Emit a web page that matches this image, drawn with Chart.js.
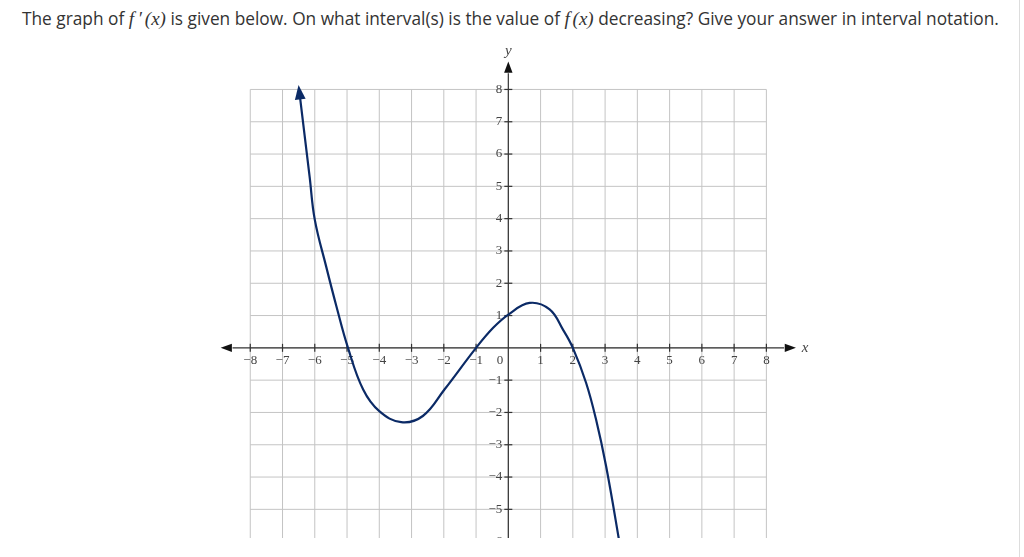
<!DOCTYPE html>
<html><head><meta charset="utf-8">
<script src="https://cdn.jsdelivr.net/npm/chart.js@4"></script>
<style>
html,body{margin:0;padding:0;width:1024px;height:557px;overflow:hidden;background:#fff;}
#title{position:absolute;left:22px;top:7px;font-family:"Open Sans",sans-serif;font-size:17.3px;color:#333;white-space:nowrap;}
#title i{font-family:"Liberation Serif",serif;font-size:19px;}
#c{position:absolute;left:218.45px;top:41.45px;}
#rb{position:absolute;left:1019px;top:0;width:1px;height:557px;background:#ddd;}
</style></head><body>
<div id="title">The graph of <i>f&#8201;′</i>&#8201;<i>(x)</i> is given below. On what interval(s) is the value of <i>f</i>&#8201;<i>(x)</i> decreasing? Give your answer in interval notation.</div>
<div id="rb"></div>
<canvas id="c" width="600" height="497"></canvas>
<script>
const xs = [-6.47,-6.16,-6.0,-5.65,-5.33,-4.97,-4.5,-4.0,-3.32,-2.65,-1.98,-1.0,-0.47,0,0.66,1.28,1.69,2.0,2.41,2.72,3.03,3.42,3.6];
const ys = [7.86,5.3,3.97,2.53,1.29,0,-1.29,-1.96,-2.30,-2.11,-1.29,0,0.62,1.03,1.39,1.19,0.57,0,-1.08,-2.22,-3.66,-5.88,-7.0];
const xTicks = [-8,-7,-6,-5,-4,-3,-2,-1,1,2,3,4,5,6,7,8];
const yTicks = [-6,-5,-4,-3,-2,-1,1,2,3,4,5,6,7,8];
const grid = {xmin:-8,xmax:8,ymin:-7,ymax:8};
const fmt = v => (v<0?'\u2212':'')+Math.abs(v);

function tri(ctx,x,y,ang,size){
  ctx.save();ctx.translate(x,y);ctx.rotate(ang);
  ctx.beginPath();ctx.moveTo(size,0);ctx.lineTo(-size*0.6,size*0.6);ctx.lineTo(-size*0.6,-size*0.6);ctx.closePath();ctx.fill();ctx.restore();
}
const axesPlugin = {
  id:'axesP',
  beforeDatasetsDraw(chart){
    const {ctx,scales:{x,y}} = chart;
    const X=v=>x.getPixelForValue(v), Y=v=>y.getPixelForValue(v);
    ctx.save();
    ctx.strokeStyle='#c4c4c4';ctx.lineWidth=1;
    for(let v=grid.xmin;v<=grid.xmax;v++){ctx.beginPath();ctx.moveTo(X(v),Y(grid.ymax));ctx.lineTo(X(v),Y(grid.ymin));ctx.stroke();}
    for(let v=grid.ymin;v<=grid.ymax;v++){ctx.beginPath();ctx.moveTo(X(grid.xmin),Y(v));ctx.lineTo(X(grid.xmax),Y(v));ctx.stroke();}
    ctx.strokeStyle='#333';ctx.fillStyle='#111';ctx.lineWidth=1.2;
    ctx.beginPath();ctx.moveTo(X(-8.55),Y(0));ctx.lineTo(X(8.55),Y(0));ctx.stroke();
    ctx.beginPath();ctx.moveTo(X(0),Y(-7));ctx.lineTo(X(0),Y(8.5));ctx.stroke();
    tri(ctx,X(-8.7),Y(0),Math.PI,7);tri(ctx,X(8.7),Y(0),0,7);tri(ctx,X(0),Y(8.65),-Math.PI/2,7);
    ctx.font='13px "Liberation Serif", serif';ctx.fillStyle='#444';
    ctx.textAlign='center';ctx.textBaseline='top';
    for(const v of xTicks){ctx.beginPath();ctx.moveTo(X(v),Y(0)-4);ctx.lineTo(X(v),Y(0)+4);ctx.stroke();ctx.fillText(fmt(v),X(v),Y(0)+6);}
    ctx.textAlign='right';ctx.fillText('0',X(0)-5,Y(0)+6);
    ctx.textBaseline='middle';
    for(const v of yTicks){ctx.beginPath();ctx.moveTo(X(0)-4,Y(v));ctx.lineTo(X(0)+4,Y(v));ctx.stroke();ctx.fillText(fmt(v),X(0)-6,Y(v));}
    ctx.font='italic 15px "Liberation Serif", serif';ctx.textAlign='center';
    ctx.fillText('y',X(0),Y(9.2));ctx.fillText('x',X(9.2),Y(0));
    ctx.restore();
  },
  afterDatasetsDraw(chart){
    const {ctx,scales:{x,y}} = chart;
    const x0=x.getPixelForValue(xs[0]),y0=y.getPixelForValue(ys[0]);
    const x1=x.getPixelForValue(xs[1]),y1=y.getPixelForValue(ys[1]);
    ctx.save();ctx.fillStyle='#0b2a66';tri(ctx,x0,y0,Math.atan2(y0-y1,x0-x1),9);ctx.restore();
  }
};
new Chart(document.getElementById('c'),{
  type:'scatter',
  data:{datasets:[{data:xs.map((v,i)=>({x:v,y:ys[i]})),showLine:true,borderColor:'#0b2a66',borderWidth:2.2,pointRadius:0,tension:0.4,fill:false}]},
  options:{responsive:false,animation:false,layout:{padding:0},
    plugins:{legend:{display:false},tooltip:{enabled:false}},
    scales:{x:{type:'linear',min:-9,max:9.6,display:false},y:{type:'linear',min:9.5-497/32.3,max:9.5,display:false}}},
  plugins:[axesPlugin]
});
</script></body></html>
